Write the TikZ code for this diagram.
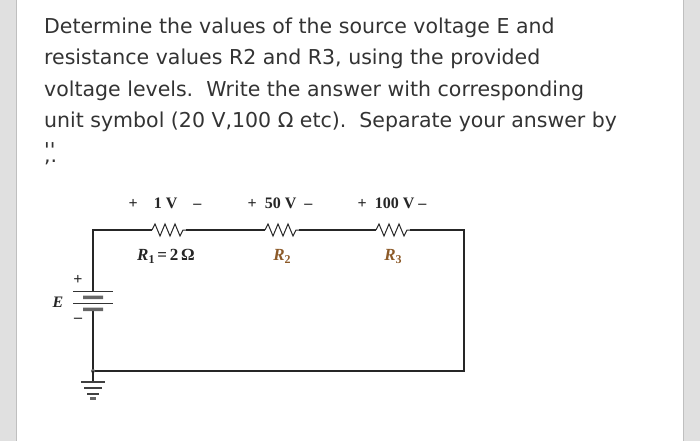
\documentclass[tikz,border=0pt]{standalone}
\usepackage{fontspec}
\setmainfont{DejaVu Sans}
\newfontfamily\tms{Liberation Serif}
\newcommand{\Rsub}[1]{{\itshape R}\raisebox{-3pt}{\fontsize{12}{13}\selectfont #1}}
\begin{document}
\begin{tikzpicture}[x=1pt,y=-1pt,
  wire/.style={line width=1.1pt,black!85},
  qtext/.style={anchor=base west,inner sep=0,font=\fontsize{20.5}{24}\selectfont,text=black!80},
  ctext/.style={inner sep=0,font=\tms\bfseries\fontsize{16}{18}\selectfont,text=black!85},
  rlab/.style={inner sep=0,font=\tms\bfseries\fontsize{17}{18}\selectfont},
  zig/.style={line width=1pt,black!85,line join=miter}]
\useasboundingbox (0,0) rectangle (700,441);
\fill[black!12] (0,0) rectangle (16,441);
\fill[black!12] (684,0) rectangle (700,441);
\draw[black!25] (16.5,0) -- (16.5,441) (683.5,0) -- (683.5,441);
% question text
\node[qtext] (l1) at (44,34) {Determine the values of the source voltage E and};
\node[qtext] (l2) at (44,65) {resistance values R2 and R3, using the provided};
\node[qtext] (l3) at (44,96) {voltage levels.\ \ Write the answer with corresponding};
\node[qtext] (l4) at (44,127) {unit symbol (20 V,100 Ω etc).\ \ Separate your answer by};
\node[qtext] (l5) at (44,162) {\rlap{\raisebox{5pt}{\textquotesingle\textquotesingle}},.};
% corners
\coordinate (tl) at (93,230);
\coordinate (tr) at (464,230);
\coordinate (br) at (464,371);
\coordinate (bl) at (93,371);
% resistors
\foreach \n/\cx in {r1/169,r2/282,r3/393}{
  \coordinate (\n a) at (\cx-17,230);
  \coordinate (\n b) at (\cx+17,230);
  \draw[zig] (\n a) -- ++(3,-6) -- ++(5,12) -- ++(5,-12) -- ++(5,12) -- ++(5,-12) -- ++(5,12) -- ++(3,-6) -- (\n b);
}
\draw[wire] (r1a) -- (tl) -- (93,291);
\draw[wire] (r1b) -- (r2a) (r2b) -- (r3a);
\draw[wire] (r3b) -- (tr) -- (br) -- (bl) -- (93,310);
% battery
\draw[line width=1.3pt,black!80] (73,291.5) -- (113,291.5) (73,303.5) -- (113,303.5);
\fill[black!60] (83,295.5) rectangle (103,299) (83,307.5) rectangle (103,311);
\node[ctext,font=\tms\bfseries\itshape\fontsize{16}{18}\selectfont] (E) at (58,302) {E};
\node[ctext] (bp) at (78,280) {+};
\node[ctext] (bm) at (78,320) {–};
% ground
\fill[black!60] (bl) circle (2);
\coordinate (g) at (93,382);
\draw[wire] (bl) -- (g);
\draw[line width=1.2pt,black!75] (81,382) -- (105,382) (84,388) -- (102,388) (87,394) -- (99,394);
\fill[black!60] (90,397) rectangle (96,400);
% labels
\node[ctext] (v1) at (165,203) {+\quad 1 V\quad –};
\node[ctext] (v2) at (280,203) {+\ \ 50 V\ \ –};
\node[ctext] (v3) at (392,203) {+\ \ 100 V –};
\node[rlab,text=black!85] (R1) at (166,256) {\Rsub{1}\,=\,2\,Ω};
\node[rlab,text={rgb,255:red,140;green,90;blue,40}] (R2) at (282,256) {\Rsub{2}};
\node[rlab,text={rgb,255:red,140;green,90;blue,40}] (R3) at (393,256) {\Rsub{3}};
\end{tikzpicture}
\end{document}
